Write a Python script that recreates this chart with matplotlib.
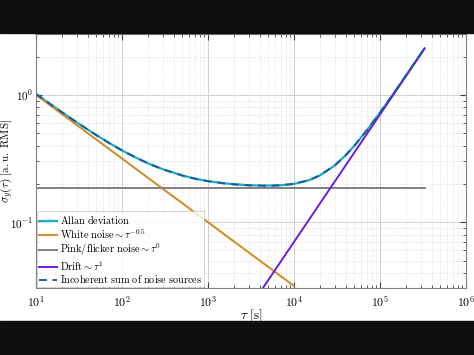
import math

import matplotlib
matplotlib.use("Agg")
import matplotlib.pyplot as plt
from matplotlib.patches import Rectangle
from matplotlib.ticker import FuncFormatter, NullFormatter

plt.rcParams["mathtext.fontset"] = "cm"
plt.rcParams["font.family"] = ["DejaVu Serif"]

# Allan deviation
tau = [10, 15, 20, 30, 50, 70, 100, 150, 200, 300, 500, 700, 1e3, 1.5e3, 2e3, 3e3,
       5e3, 7e3, 1e4, 1.5e4, 2e4, 3e4, 4e4, 5e4, 7e4, 1e5, 1.5e5, 2e5, 2.5e5, 3.3e5]
adev = [1.017, 0.837, 0.731, 0.606, 0.484, 0.421, 0.366, 0.318, 0.290, 0.260, 0.233,
        0.220, 0.210, 0.2025, 0.199, 0.195, 0.194, 0.195, 0.200, 0.214, 0.233, 0.280,
        0.336, 0.396, 0.524, 0.724, 1.066, 1.412, 1.760, 2.317]
# incoherent sum of the three noise terms (dashed, lies on top of adev)
inc_sum = [1.017, 0.837, 0.731, 0.606, 0.484, 0.421, 0.366, 0.318, 0.290, 0.260, 0.233,
           0.220, 0.210, 0.2025, 0.198, 0.195, 0.193, 0.195, 0.200, 0.214, 0.233, 0.280,
           0.336, 0.396, 0.524, 0.724, 1.066, 1.412, 1.760, 2.317]

# straight lines in log-log: end points
white_tau = [10, 1e4]
white_val = [1.0, 0.0316]
pink_tau = [10, 3.3e5]
pink_val = [0.185, 0.185]
drift_tau = [4e3, 3.3e5]
drift_val = [0.028, 2.31]

fig = plt.figure(figsize=(4.74, 3.55), dpi=100)
ax = fig.add_axes([0.076, 0.189, 0.907, 0.715])

ax.plot(tau, adev, color="#1aaec4", lw=1.6, label=r"$\mathrm{Allan\ deviation}$")
ax.plot(white_tau, white_val, color="#d08a22", lw=1.4, label=r"$\mathrm{White\ noise} \sim \tau^{-0.5}$")
ax.plot(pink_tau, pink_val, color="#808080", lw=1.4, label=r"$\mathrm{Pink/flicker\ noise} \sim \tau^{0}$")
ax.plot(drift_tau, drift_val, color="#6a1fd6", lw=1.4, label=r"$\mathrm{Drift} \sim \tau^{1}$")
ax.plot(tau, inc_sum, color="#1f5a96", lw=1.4, ls=(0, (4, 3)),
        label=r"$\mathrm{Incoherent\ sum\ of\ noise\ sources}$")

ax.set_xscale("log")
ax.set_yscale("log")
ax.set_xlim(10, 1e6)
ax.set_ylim(0.0305, 3.0)

pow_fmt = FuncFormatter(lambda v, pos: r"$10^{%d}$" % round(math.log10(v)))
ax.xaxis.set_major_formatter(pow_fmt)
ax.yaxis.set_major_formatter(pow_fmt)
ax.xaxis.set_minor_formatter(NullFormatter())
ax.yaxis.set_minor_formatter(NullFormatter())

ax.grid(True, which="major", color="#d0d0d0", lw=0.7)
ax.grid(True, which="minor", color="#d8d8d8", lw=0.6, ls=":")
ax.tick_params(which="both", direction="in", top=True, right=True, colors="#404040")
ax.tick_params(axis="x", labelsize=8.5, pad=5)
ax.tick_params(axis="y", labelsize=8, pad=2)
ax.tick_params(which="major", length=4)
ax.tick_params(which="minor", length=2.5)
for sp in ax.spines.values():
    sp.set_color("#808080")
ax.tick_params(labelcolor="black")

ax.set_xlabel(r"$\tau\ \mathrm{[s]}$", fontsize=9.5)
ax.set_ylabel(r"$\sigma_y(\tau)\ \mathrm{[a.u.\ RMS]}$", fontsize=8)
ax.xaxis.set_label_coords(0.5, -0.078)
ax.yaxis.set_label_coords(-0.048, 0.5)

leg = ax.legend(loc="lower left", fontsize=7.4, frameon=True, fancybox=False, borderpad=0.2,
                labelspacing=0.08, handlelength=1.8, handletextpad=0.3, borderaxespad=0.05)
leg.get_frame().set_edgecolor("#c0c0c0")
leg.get_frame().set_linewidth(0.6)

# letterbox bars of the reference
fig.patches.append(Rectangle((0, 0.906), 1, 0.1, transform=fig.transFigure, color="#0f0f0f", zorder=10))
fig.patches.append(Rectangle((0, 0), 1, 0.096, transform=fig.transFigure, color="#0f0f0f", zorder=10))

fig.savefig("out.png", dpi=100)
